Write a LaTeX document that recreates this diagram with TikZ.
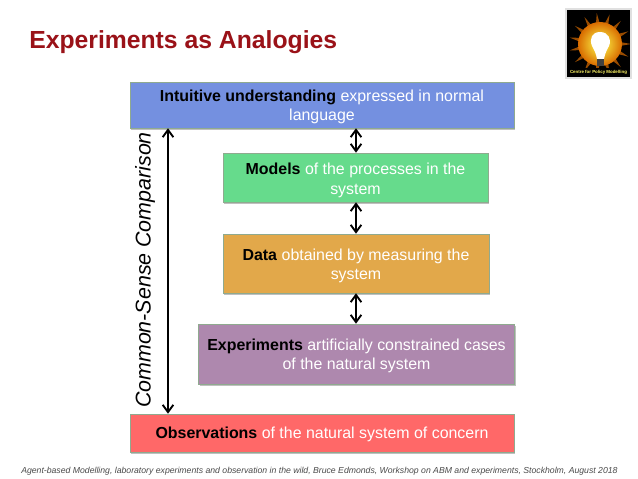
\documentclass[tikz,border=0pt]{standalone}
\usepackage{fontspec}
\setmainfont{Liberation Sans}
\usetikzlibrary{arrows.meta,shadows,calc}
\definecolor{titlered}{HTML}{9A1218}
\definecolor{cblue}{HTML}{7490E0}
\definecolor{cgreen}{HTML}{66DB8C}
\definecolor{corange}{HTML}{E2A84A}
\definecolor{cpurple}{HTML}{AE88AE}
\definecolor{cred}{HTML}{FF6868}
\definecolor{edgeg}{HTML}{8FAA8F}
\definecolor{footg}{HTML}{4A4A4A}
\tikzset{
  px/.style={x=0.75pt,y=-0.75pt},
  stage/.style={draw=edgeg,line width=0.4pt,inner sep=0pt,
    drop shadow={shadow xshift=0.9pt,shadow yshift=-1.3pt,fill=black,opacity=0.25}},
  stagetext/.style={inner sep=0pt,align=center,text=white,font=\fontsize{11.95}{14.5}\selectfont},
  link/.style={line width=1.4pt,{Straight Barb[length=5.5pt,width=8pt]}-{Straight Barb[length=5.5pt,width=8pt]}},
}
\newcommand{\bd}[1]{\textcolor{black}{\textbf{#1}}}
\begin{document}
\begin{tikzpicture}[px]
\useasboundingbox (0,0) rectangle (638,478);
\fill[white] (0,0) rectangle (638,478);
\node[anchor=base west,inner sep=0pt,text=titlered,font=\fontsize{18.55}{21}\selectfont\bfseries] (title) at (29,49) {Experiments as Analogies};
% logo
\fill[black!12] (565,8) rectangle (632,79);
\fill[black] (567,10) rectangle (630,77);
\begin{scope}
\clip (567,10) rectangle (630,77);
\foreach \a in {0,24,...,336}{\fill[orange!85!black,opacity=.7] ($(600,44)+(\a-13:14)$) -- ($(600,44)+(\a:31)$) -- ($(600,44)+(\a+13:14)$) -- cycle;}
\shade[inner color=yellow!70!white,middle color=yellow!60!orange,outer color=orange!85!black] (600,44) circle[radius=22];
\end{scope}
\fill[white] (600,32) .. controls (592,32) and (589,39) .. (592,46) .. controls (594,50) and (596,53) .. (597,59) -- (604,59) .. controls (605,53) and (607,50) .. (609,46) .. controls (612,39) and (608,32) .. (600,32) -- cycle;
\fill[black!75] (597,59) rectangle (604,66);
\fill[black] (567,68) rectangle (630,77);
\node[inner sep=0pt,text=yellow!60!white,font=\fontsize{3.3}{4}\selectfont\bfseries] (logotext) at (598.5,72.5) {Centre for Policy Modelling};
% boxes
\node[stage,fill=cblue,minimum width=288pt,minimum height=34.5pt] (intuitive) at (322,105) {};
\node[stage,fill=cgreen,minimum width=198.75pt,minimum height=36.75pt] (models) at (355.5,177.5) {};
\node[stage,fill=corange,minimum width=199.5pt,minimum height=44.25pt] (data) at (356,263.5) {};
\node[stage,fill=cpurple,minimum width=237pt,minimum height=45pt] (experiments) at (356.5,354) {};
\node[stage,fill=cred,minimum width=288pt,minimum height=28.5pt] (observations) at (322,433) {};
% texts
\node[stagetext] (intuitivetext) at (322,107) {\bd{Intuitive understanding} expressed in normal\\language};
\node[stagetext] (modelstext) at (355.5,180.5) {\bd{Models} of the processes in the\\system};
\node[stagetext] (datatext) at (356,266) {\bd{Data} obtained by measuring the\\system};
\node[stagetext] (experimentstext) at (356.5,356) {\bd{Experiments} artificially constrained cases\\of the natural system};
\node[stagetext] (observationstext) at (322,434.5) {\bd{Observations} of the natural system of concern};
% connectors
\draw[link] (intuitive.south -| 356,0) -- (models.north -| 356,0);
\draw[link] (models.south -| 356,0) -- (data.north -| 356,0);
\draw[link] (data.south -| 356,0) -- (experiments.north -| 356,0);
\draw[link] (intuitive.south -| 168,0) -- (observations.north -| 168,0);
% side label
\node[rotate=90,inner sep=0pt,font=\fontsize{16.05}{18}\selectfont\itshape] (common) at (145,270) {Common-Sense Comparison};
% footer
\node[anchor=base west,inner sep=0pt,text=footg,font=\fontsize{6.51}{8}\selectfont\itshape] (footer) at (21,473.5) {Agent-based Modelling, laboratory experiments and observation in the wild, Bruce Edmonds, Workshop on ABM and experiments, Stockholm, August  2018};
\end{tikzpicture}
\end{document}
